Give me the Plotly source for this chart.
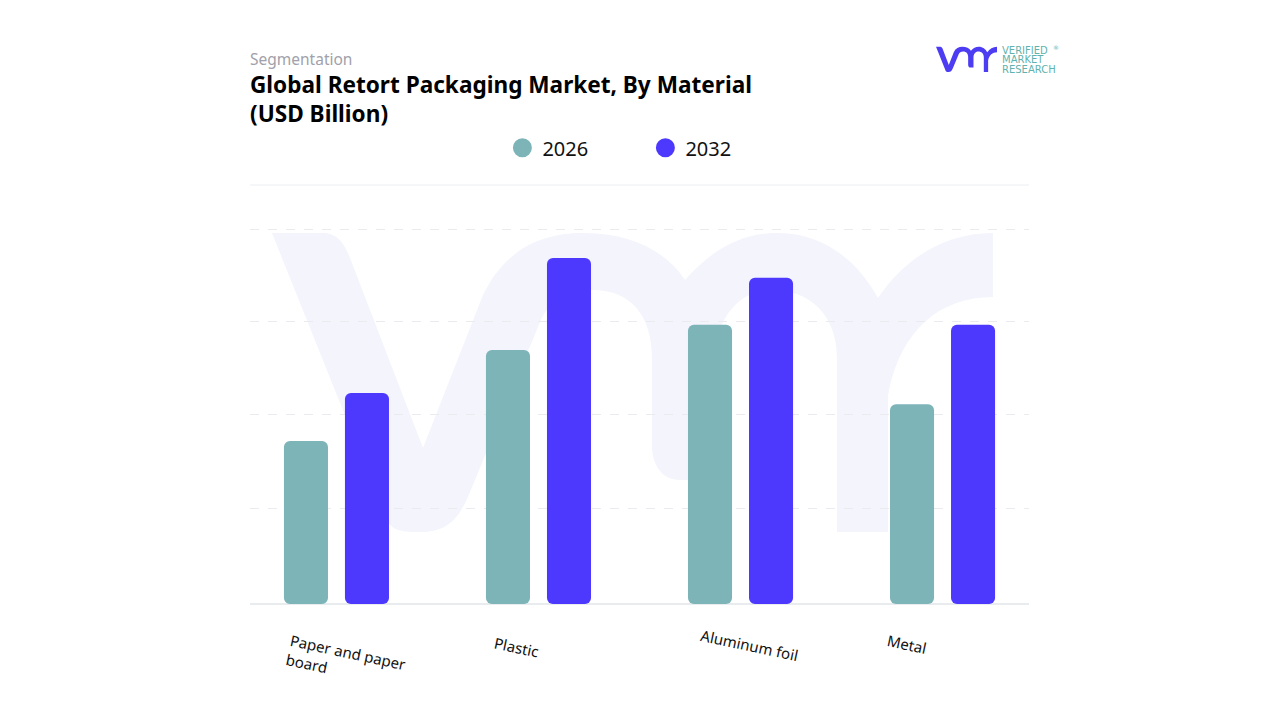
import re
import plotly.graph_objects as go

# values (USD billion, approx)
categories = ["Paper and paper board", "Plastic", "Aluminum foil", "Metal"]
values_2026 = [1.74, 2.71, 2.98, 2.13]
values_2032 = [2.25, 3.69, 3.48, 2.98]
grid_values = [1.02, 2.02, 3.01, 4]

TEAL = "#7cb4b8"
BLUE = "#4c39fd"
FONT = "Noto Sans"

# plot box in window pixels
LEFT, RIGHT, TOP, BOTTOM = 250, 1029, 185, 604
# the page body has an 8px margin, so the figure sits 8px in from the window
PAGE = 8

# vmr mark outline, in window pixels
MARK = (
    "M 272,233 L 323,233 C 338,233 345,245 350,258 L 423,448 L 483,295 "
    "C 505,250 540,233 583,233 C 630,233 665,250 685,280 C 712,250 740,233 777,233 "
    "C 825,233 858,262 878,298 C 905,258 945,233 993,233 L 993,297 C 940,297 900,330 "
    "888,395 L 888,532 L 837,532 L 837,358 C 837,315 810,290 772,290 C 738,290 715,320 "
    "715,360 L 715,480 L 680,480 C 662,480 652,465 652,445 L 652,358 C 652,315 630,290 "
    "593,290 C 565,290 550,300 540,322 L 470,492 C 458,522 445,532 420,532 C 400,532 "
    "392,530 387,520 Z"
)


def to_paper(path, scale=1.0, dx=0, dy=0):
    # window pixels -> paper fractions, so the mark can sit outside the plot box
    def conv(m):
        x = float(m.group(1)) * scale + dx
        y = float(m.group(2)) * scale + dy
        return f"{(x - LEFT) / (RIGHT - LEFT):.5f},{(BOTTOM - y) / (BOTTOM - TOP):.5f}"
    return re.sub(r"([\d.]+),([\d.]+)", conv, path)


def paper_y(y):
    return (BOTTOM - y) / (BOTTOM - TOP)


def paper_x(x):
    return (x - LEFT) / (RIGHT - LEFT)


fig = go.Figure()

for name, vals, colour, off in [("2026", values_2026, TEAL, -0.26), ("2032", values_2032, BLUE, 0.042)]:
    # an explicit base makes plotly round all four corners
    fig.add_bar(x=categories, y=vals, base=[0] * len(vals), width=0.218, offset=off,
                marker=dict(color=colour, cornerradius=6, line_width=0), showlegend=False, name=name)
    # legend entry only, bars would give a square swatch
    fig.add_scatter(x=[None], y=[None], mode="markers", name=name,
                    marker=dict(symbol="circle", size=16, color=colour, line=dict(color=colour, width=3)))

labels = []
# category labels, tilted by hand like the original
for text, cat, xs, ys in [("Paper and paper<br>board", categories[0], 10, -58),
                          (categories[1], categories[1], -22, -43),
                          (categories[2], categories[2], 8.5, -41),
                          (categories[3], categories[3], -36, -40)]:
    labels.append(dict(text=text, x=cat, xref="x", y=0, yref="paper", xshift=xs, yshift=ys,
                       xanchor="center", yanchor="middle", textangle=12, align="left",
                       showarrow=False, font=dict(size=15)))

# logo wording
for text, y in [("VERIFIED", 50), ("MARKET", 60), ("RESEARCH", 69)]:
    labels.append(dict(text=text, xref="paper", yref="paper", x=paper_x(1002), y=paper_y(y),
                       xanchor="left", yanchor="middle", xshift=-2, showarrow=False,
                       font=dict(family="DejaVu Sans", size=10, color="#5fb3ae")))
labels.append(dict(text="®", xref="paper", yref="paper", x=paper_x(1056), y=paper_y(47),
                   xanchor="center", yanchor="middle", showarrow=False,
                   font=dict(family="DejaVu Sans", size=6, color="#5fb3ae")))

labels.append(dict(text="Segmentation", xref="paper", yref="paper", x=0, y=paper_y(59),
                   xanchor="left", yanchor="middle", showarrow=False, xshift=-2,
                   font=dict(size=15.5, color="#a1a1aa")))

fig.update_layout(
    width=1280 - 2 * PAGE, height=720 - 2 * PAGE,
    margin=dict(l=LEFT - PAGE, r=1280 - PAGE - RIGHT, t=TOP - PAGE, b=720 - PAGE - BOTTOM, autoexpand=False),
    paper_bgcolor="white", plot_bgcolor="rgba(0,0,0,0)",
    barmode="overlay",
    font=dict(family=FONT, color="#111111"),
    title=dict(text="<b>Global Retort Packaging Market, By Material<br>(USD Billion)</b>",
               x=(LEFT - PAGE) / (1280 - 2 * PAGE), xanchor="left",
               y=1 - 85 / (720 - 2 * PAGE), yanchor="top",
               font=dict(family=FONT, size=22.6, color="#000000")),
    legend=dict(orientation="h", x=0.324, xanchor="left", y=1.089, yanchor="middle",
                entrywidth=98, entrywidthmode="pixels", font=dict(size=20, color="#111111"),
                bgcolor="rgba(0,0,0,0)"),
    xaxis=dict(range=[-0.428, 3.428], showticklabels=False, showgrid=False, ticks="",
               showline=False, zeroline=False, fixedrange=True),
    yaxis=dict(range=[0, 419 / 93.75], tickvals=grid_values, showticklabels=False, ticks="",
               showgrid=True, gridcolor="#e9ebef", griddash="dash", gridwidth=1,
               zeroline=False, showline=False, fixedrange=True),
    shapes=[
        dict(type="path", layer="below", xref="paper", yref="paper", path=to_paper(MARK),
             fillcolor="#f3f4fc", line_width=0),
        dict(type="path", layer="above", xref="paper", yref="paper",
             path=to_paper(MARK, 0.0846, 913, 27), fillcolor="#4c3cf2", line_width=0),
        dict(type="line", xref="paper", yref="paper", x0=0, x1=1, y0=1, y1=1,
             line=dict(color="#eceef1", width=1)),
        dict(type="line", layer="below", xref="paper", yref="paper", x0=0, x1=1, y0=0, y1=0,
             line=dict(color="#e9ecef", width=2)),
    ],
    annotations=labels,
)

fig.write_html("out.html")
